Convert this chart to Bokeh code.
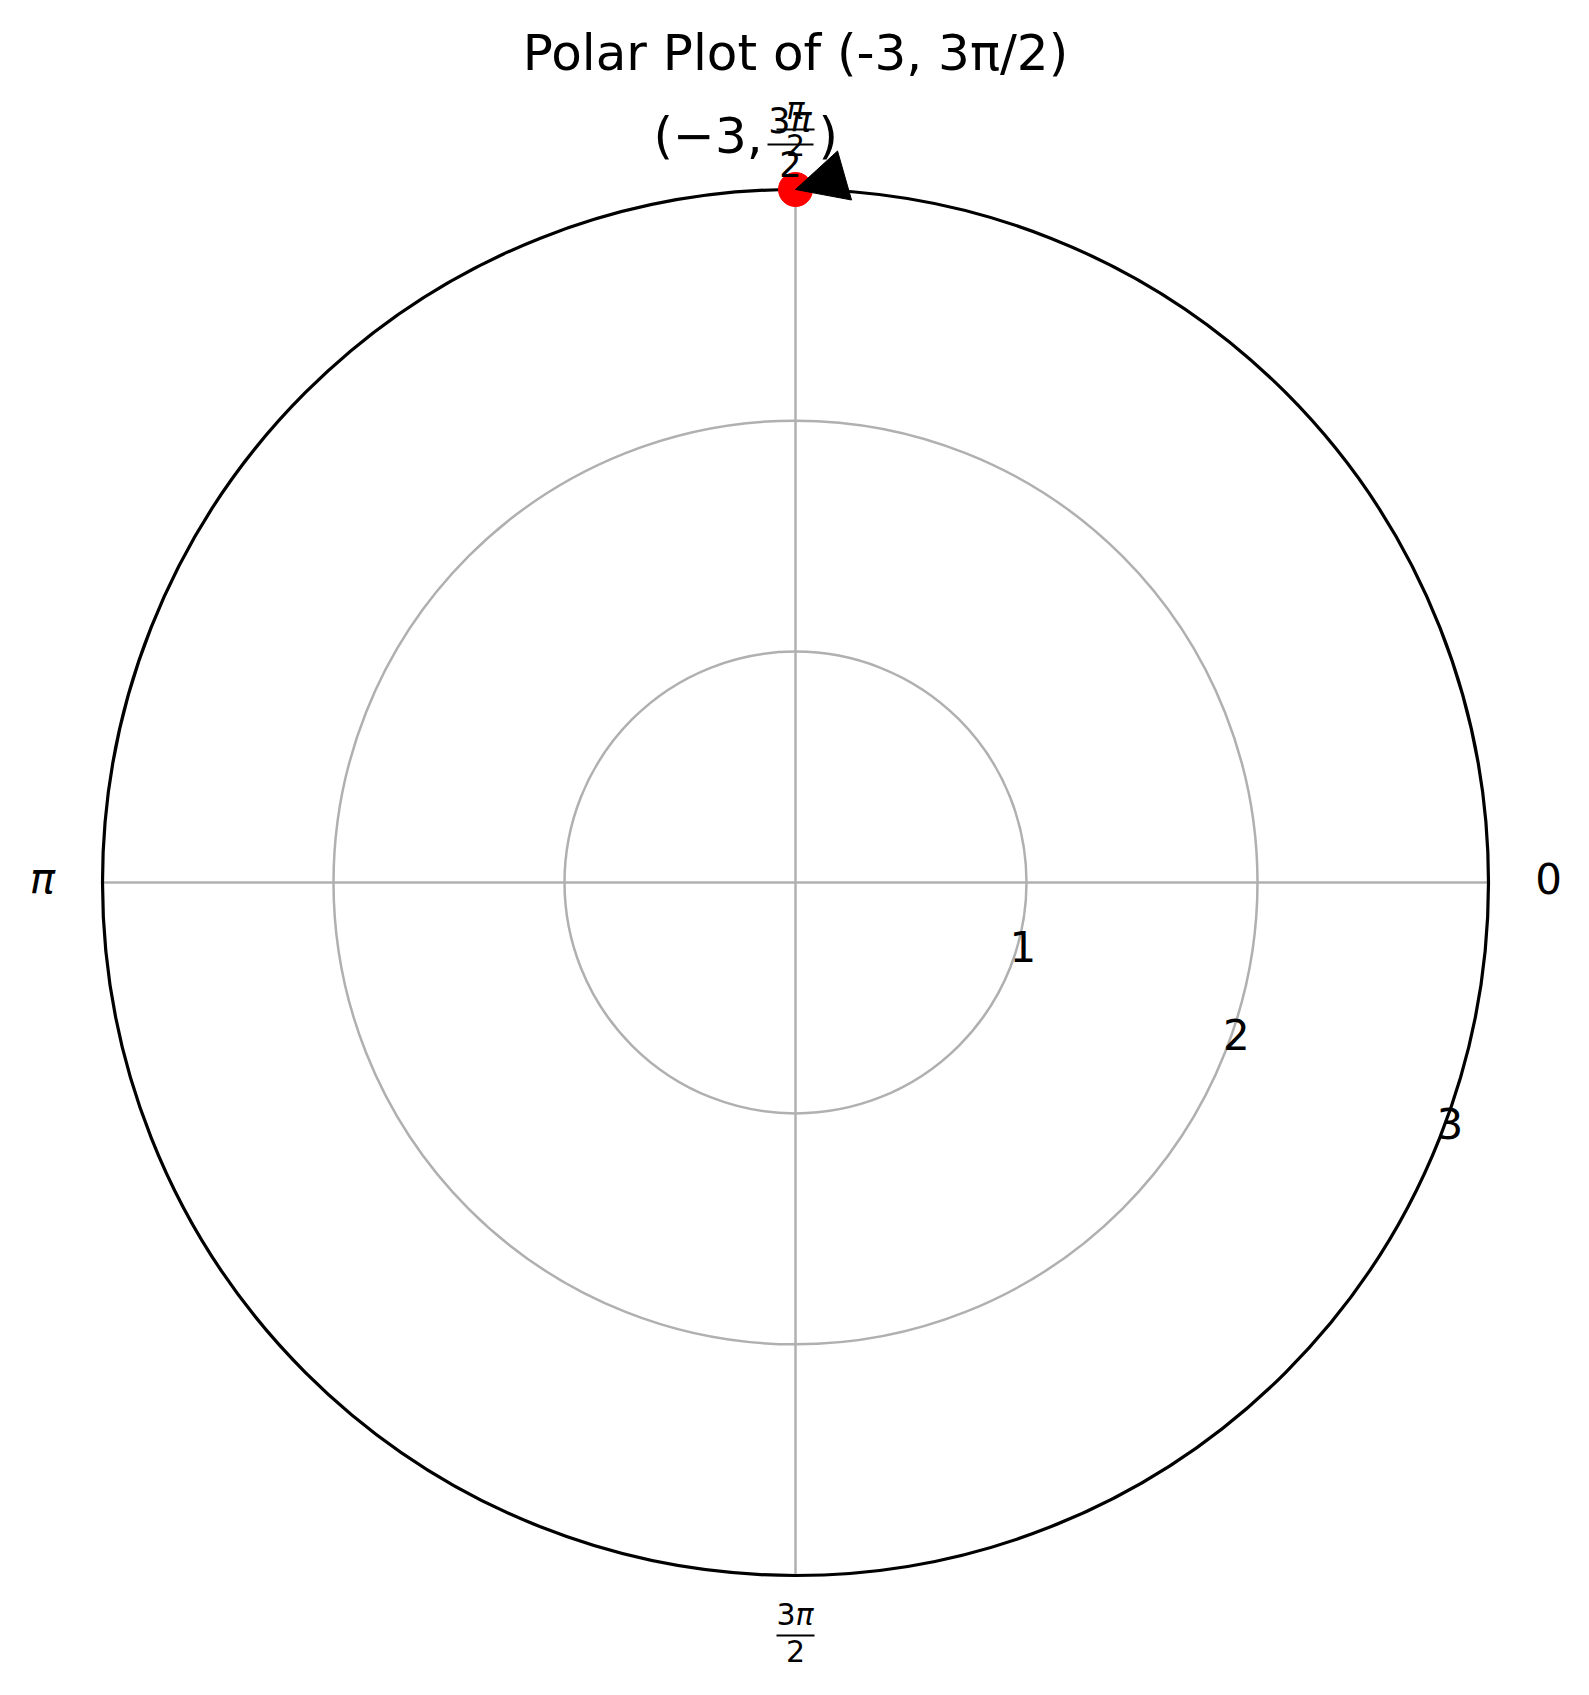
import numpy as np
from bokeh.plotting import figure
from bokeh.models import Range1d, Arrow, NormalHead
from bokeh.embed import file_html
from bokeh.resources import INLINE
from bokeh.core.properties import value

# ---------------- data ----------------
title_text = "Polar Plot of (-3, 3π/2)"
point_r = [-3]
point_theta = [3 * np.pi / 2]
point_label_main = "(−3,"
point_label_num = "3π"
point_label_den = "2"
r_ticks = [1, 2, 3]
r_tick_labels = ["1", "2", "3"]
r_max = 3
theta_ticks = [0, np.pi / 2, np.pi, 3 * np.pi / 2]
theta_tick_labels = ["0", "π/2", "π", "3π/2"]
r_label_angle_deg = -22.5

# ---------------- layout ----------------
W, H = 1573, 1679
S = 231.0            # pixels per radial unit
CX, CY = 795, 882    # centre of polar axes, figure pixels
FONT = "DejaVu Sans"
KB = 0.37            # baseline correction (fraction of font size)


def px(n):
    return n / S


p = figure(width=W, height=H,
           x_range=Range1d(-CX / S, (W - CX) / S),
           y_range=Range1d(-(H - CY) / S, CY / S),
           x_axis_type=None, y_axis_type=None,
           output_backend="svg", toolbar_location=None,
           min_border=0, outline_line_color=None)
p.grid.visible = False
p.background_fill_color = "white"


def T(x, y, txt, size, align="center", dx=0, dy=0, italic=False):
    """text with baseline dy pixels below (x, y)"""
    p.text(x=list(np.atleast_1d(x)), y=list(np.atleast_1d(y)),
           text=list(np.atleast_1d(txt)),
           text_font=value(FONT), text_font_size=f"{size}px",
           text_align=align, text_baseline="alphabetic",
           x_offset=dx, y_offset=dy - KB * size, text_color="black",
           text_font_style="italic" if italic else "normal")


def frac(x, y, num, den, size, bar_w, num_dy, den_dy):
    p.segment(x0=[x - px(bar_w / 2)], y0=[y], x1=[x + px(bar_w / 2)], y1=[y],
              line_color="black", line_width=2)
    if num.endswith("π") and len(num) > 1:
        T(x, y, num[:-1], size, align="right", dx=0, dy=num_dy)
        T(x, y, "π", size, align="left", dx=0, dy=num_dy, italic=True)
    else:
        T(x, y, num, size, dy=num_dy, italic=(num == "π"))
    T(x, y, den, size, dy=den_dy)


GRID = "#b0b0b0"

# radial grid circles
inner = [r for r in r_ticks if r < r_max]
p.circle(x=[0] * len(inner), y=[0] * len(inner), radius=inner,
         fill_color=None, line_color=GRID, line_width=2.5)

# angular spokes
th = np.array(theta_ticks)
p.segment(x0=np.zeros(len(th)), y0=np.zeros(len(th)),
          x1=r_max * np.cos(th), y1=r_max * np.sin(th),
          line_color=GRID, line_width=2.5)

# outer spine
p.circle(x=[0], y=[0], radius=[r_max], fill_color=None,
         line_color="black", line_width=3.2)

# radial tick labels
ang = np.deg2rad(r_label_angle_deg)
rt = np.array(r_ticks, dtype=float)
T(rt * np.cos(ang), rt * np.sin(ang), r_tick_labels, 42, dx=14, dy=-9)

# angular tick labels
r_lab = px(753)
for t, lab in zip(theta_ticks, theta_tick_labels):
    lx, ly = r_lab * np.cos(t), r_lab * np.sin(t)
    if "/" in lab:
        num, den = lab.split("/")
        frac(lx, ly, num, den, 30, 38, -10, 27)
    else:
        T(lx, ly, lab, 42, dy=12, italic=(lab == "π"))

# point
pr = np.array(point_r, dtype=float)
pt = np.array(point_theta)
pxs = pr * np.cos(pt)
pys = pr * np.sin(pt)
p.scatter(x=pxs, y=pys, size=34, fill_color="red", line_color="red")

# annotation arrow (head only)
dirx, diry = 49 / 51.0, 14 / 51.0
arrow = Arrow(end=NormalHead(size=51, fill_color="black", line_color="black"),
              x_start=pxs[0] + px(51) * dirx, y_start=pys[0] + px(51) * diry,
              x_end=pxs[0], y_end=pys[0], line_alpha=0)
p.add_layout(arrow)

# annotation text
T(pxs[0], pys[0], point_label_main, 50, align="left", dx=-142, dy=-35)
frac(pxs[0] - px(5), pys[0] + px(45), point_label_num, point_label_den,
     35, 46, -12, 32)
T(pxs[0], pys[0], ")", 50, align="left", dx=23, dy=-35)

# title (baseline 71 px below the top edge, placed from the centre)
T(0, 0, title_text, 50, dy=71 - CY)

open("out.html", "w").write(file_html(p, INLINE))
